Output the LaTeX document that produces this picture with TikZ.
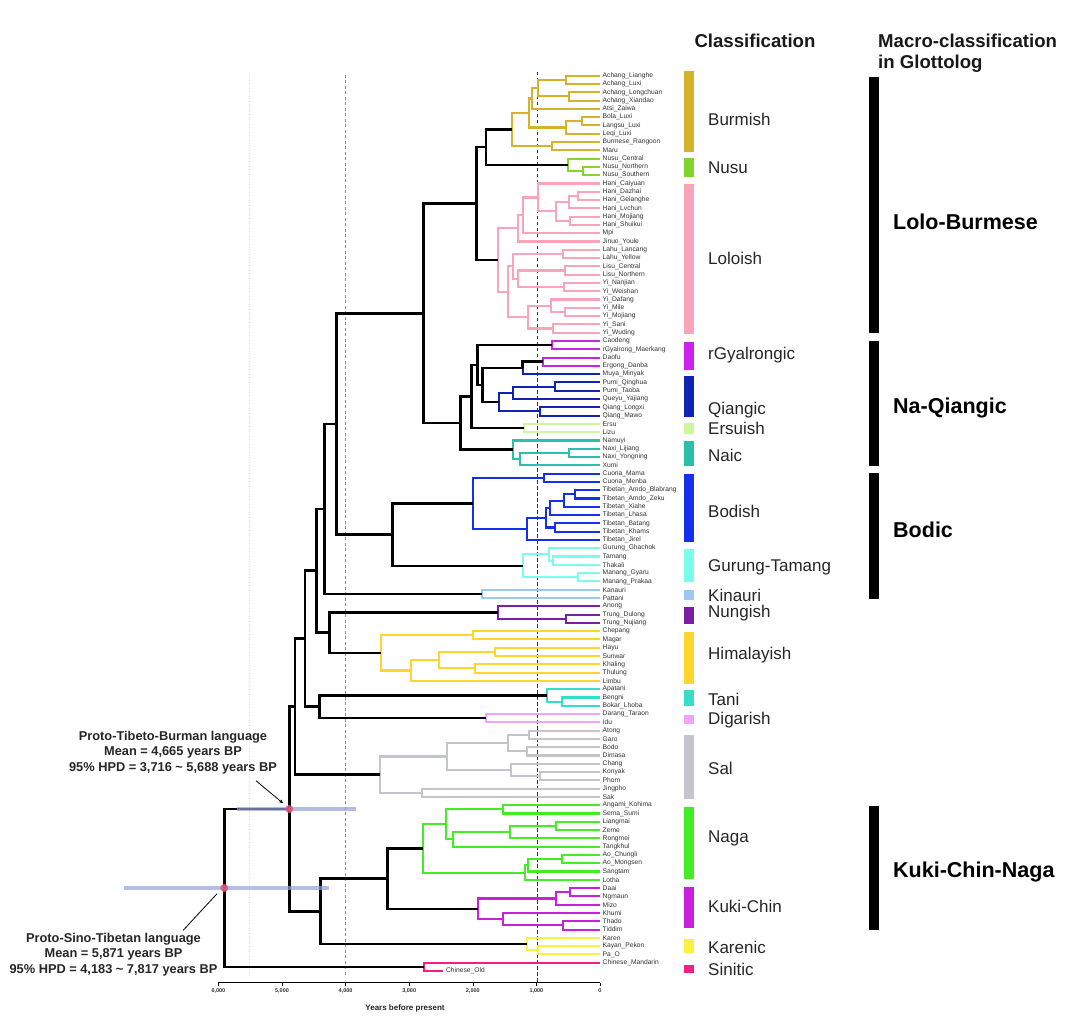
\documentclass[tikz,border=0pt]{standalone}
\usepackage{fontspec}
\setmainfont{Liberation Sans}
\usetikzlibrary{calc,arrows.meta}
\definecolor{cBur}{RGB}{214,178,42}
\definecolor{cNus}{RGB}{128,214,44}
\definecolor{cLol}{RGB}{249,164,184}
\definecolor{cGya}{RGB}{204,34,238}
\definecolor{cQia}{RGB}{16,36,180}
\definecolor{cErs}{RGB}{208,246,156}
\definecolor{cNai}{RGB}{44,192,172}
\definecolor{cBod}{RGB}{20,48,236}
\definecolor{cGur}{RGB}{124,252,234}
\definecolor{cKin}{RGB}{158,200,244}
\definecolor{cNun}{RGB}{124,30,164}
\definecolor{cHim}{RGB}{255,214,44}
\definecolor{cTan}{RGB}{52,222,200}
\definecolor{cDig}{RGB}{240,164,248}
\definecolor{cSal}{RGB}{196,196,204}
\definecolor{cNag}{RGB}{68,236,36}
\definecolor{cKuk}{RGB}{200,32,220}
\definecolor{cKar}{RGB}{255,240,64}
\definecolor{cSin}{RGB}{238,32,136}
\definecolor{hpdc}{RGB}{150,162,222}
\definecolor{dotc}{RGB}{228,80,112}
\newcommand\nd[6]{%
  \path let \p1=($(#3)!0.5!(#4)$) in (#2pt,\y1) coordinate (#1);
  \draw[br,#5] (#1) |- (#3);
  \draw[br,#6] (#1) |- (#4);
}
\newcommand\ndc[5]{\nd{#1}{#2}{#3}{#4}{#5}{#5}}
\begin{document}
\begin{tikzpicture}[x=1pt,y=-1pt,
  br/.style={line width=2.1pt,line join=miter,line cap=butt},
  blk/.style={black,line width=2.6pt},
  leaf/.style={anchor=west,inner sep=0pt,xshift=2.5pt,text=black!80,font=\fontsize{6.7}{7}\selectfont},
  cat/.style={anchor=west,inner sep=0pt,text=black!85,font=\fontsize{17}{19}\selectfont},
  macro/.style={anchor=west,inner sep=0pt,text=black,font=\fontsize{21.5}{24}\selectfont\bfseries},
  head/.style={inner sep=0pt,text=black!90,font=\fontsize{18.6}{21}\selectfont\bfseries},
  ann/.style={align=center,inner sep=0pt,text=black!85,font=\fontsize{12.8}{15.5}\selectfont\bfseries},
  tick/.style={inner sep=0pt,text=black!80,font=\fontsize{5.5}{6}\selectfont\bfseries},
  hpd/.style={hpdc,line width=4.5pt,opacity=0.7}
]
\useasboundingbox (0,0) rectangle (1080,1019);
\fill[white] (0,0) rectangle (1080,1019);

% reference lines
\draw[black!12,dotted,line width=0.6pt] (249,75) -- (249,975);
\draw[black!45,dash pattern=on 3pt off 2.5pt,line width=0.6pt] (345,75) -- (345,976);
\draw[black!80,dash pattern=on 3.5pt off 2.5pt,line width=0.7pt] (537,72) -- (537,982);

% leaves
\foreach \i/\n in {1/Achang\_Lianghe,2/Achang\_Luxi,3/Achang\_Longchuan,4/Achang\_Xiandao,5/Atsi\_Zaiwa,
6/Bola\_Luxi,7/Langsu\_Luxi,8/Leqi\_Luxi,9/Burmese\_Rangoon,10/Maru,
11/Nusu\_Central,12/Nusu\_Northern,13/Nusu\_Southern,
14/Hani\_Caiyuan,15/Hani\_Dazhai,16/Hani\_Gelanghe,17/Hani\_Lvchun,18/Hani\_Mojiang,19/Hani\_Shuikui,
20/Mpi,21/Jinuo\_Youle,22/Lahu\_Lancang,23/Lahu\_Yellow,24/Lisu\_Central,25/Lisu\_Northern,
26/Yi\_Nanjian,27/Yi\_Weishan,28/Yi\_Dafang,29/Yi\_Mile,30/Yi\_Mojiang,31/Yi\_Sani,32/Yi\_Wuding,
33/Caodeng,34/rGyalrong\_Maerkang,35/Daofu,36/Ergong\_Danba,37/Muya\_Minyak,38/Pumi\_Qinghua,
39/Pumi\_Taoba,40/Queyu\_Yajiang,41/Qiang\_Longxi,42/Qiang\_Mawo,43/Ersu,44/Lizu,45/Namuyi,
46/Naxi\_Lijiang,47/Naxi\_Yongning,48/Xumi,49/Cuona\_Mama,50/Cuona\_Menba,
51/Tibetan\_Amdo\_Blabrang,52/Tibetan\_Amdo\_Zeku,53/Tibetan\_Xiahe,54/Tibetan\_Lhasa,
55/Tibetan\_Batang,56/Tibetan\_Khams,57/Tibetan\_Jirel,58/Gurung\_Ghachok,59/Tamang,60/Thakali,
61/Manang\_Gyaru,62/Manang\_Prakaa,63/Kanauri,64/Pattani,65/Anong,66/Trung\_Dulong,67/Trung\_Nujiang,
68/Chepang,69/Magar,70/Hayu,71/Sunwar,72/Khaling,73/Thulung,74/Limbu,75/Apatani,76/Bengni,
77/Bokar\_Lhoba,78/Darang\_Taraon,79/Idu,80/Atong,81/Garo,82/Bodo,83/Dimasa,84/Chang,85/Konyak,
86/Phom,87/Jingpho,88/Sak,89/Angami\_Kohima,90/Sema\_Sumi,91/Liangmai,92/Zeme,93/Rongmei,
94/Tangkhul,95/Ao\_Chungli,96/Ao\_Mongsen,97/Sangtam,98/Lotha,99/Daai,100/Ngmaun,101/Mizo,
102/Khumi,103/Thado,104/Tiddim,105/Karen,106/Kayan\_Pekon,107/Pa\_O,108/Chinese\_Mandarin}{
  \coordinate (t\i) at (600,{75.7+(\i-1)*8.29});
  \node[leaf] (L\i) at (t\i) {\n};
}
\coordinate (t109) at (443.3,971);
\node[leaf] (L109) at (t109) {Chinese\_Old};

% Burmish
\ndc{b1}{565.7}{t1}{t2}{cBur}
\ndc{b2}{569}{t3}{t4}{cBur}
\ndc{b3}{538}{b1}{b2}{cBur}
\ndc{b4}{532}{b3}{t5}{cBur}
\ndc{b5}{581.7}{t6}{t7}{cBur}
\ndc{b6}{565.7}{b5}{t8}{cBur}
\ndc{b7}{529}{b4}{b6}{cBur}
\ndc{b8}{551.7}{t9}{t10}{cBur}
\ndc{b9}{512}{b7}{b8}{cBur}
% Nusu
\ndc{n1}{583}{t12}{t13}{cNus}
\ndc{n2}{567.7}{t11}{n1}{cNus}
\ndc{bn}{486}{b9}{n2}{blk}
% Loloish
\ndc{h1}{578}{t15}{t16}{cLol}
\ndc{h2}{569}{h1}{t17}{cLol}
\ndc{h3}{570}{t18}{t19}{cLol}
\ndc{h4}{555.7}{h2}{h3}{cLol}
\ndc{h5}{538.3}{t14}{h4}{cLol}
\ndc{h6}{523.3}{h5}{t20}{cLol}
\ndc{h7}{517.7}{h6}{t21}{cLol}
\ndc{l1}{563.3}{t22}{t23}{cLol}
\ndc{l2}{565}{t24}{t25}{cLol}
\ndc{l3}{564.3}{t26}{t27}{cLol}
\ndc{l4}{518.3}{l2}{l3}{cLol}
\ndc{l5}{513.3}{l1}{l4}{cLol}
\ndc{l6}{565}{t29}{t30}{cLol}
\ndc{l7}{550.7}{t28}{l6}{cLol}
\ndc{l8}{553.3}{t31}{t32}{cLol}
\ndc{l9}{528}{l7}{l8}{cLol}
\ndc{l10}{508.3}{l5}{l9}{cLol}
\ndc{lo}{497.7}{h7}{l10}{cLol}
\ndc{lb}{476.7}{bn}{lo}{blk}
% rGyalrongic / Qiangic / Ersuish / Naic
\ndc{r1}{552.3}{t33}{t34}{cGya}
\ndc{r2}{543.3}{t35}{t36}{cGya}
\nd{q1}{522.7}{r2}{t37}{blk}{cQia}
\ndc{q2}{555}{t38}{t39}{cQia}
\ndc{q3}{512.7}{q2}{t40}{cQia}
\ndc{q4}{540}{t41}{t42}{cQia}
\ndc{q5}{499}{q3}{q4}{cQia}
\ndc{q6}{482.7}{q1}{q5}{blk}
\ndc{q7}{477.3}{r1}{q6}{blk}
\ndc{e1}{524}{t43}{t44}{cErs}
\ndc{q8}{471.7}{q7}{e1}{blk}
\ndc{na1}{569.3}{t46}{t47}{cNai}
\ndc{na2}{520}{na1}{t48}{cNai}
\ndc{na3}{513.3}{t45}{na2}{cNai}
\ndc{q9}{460.7}{q8}{na3}{blk}
\ndc{a1}{423.3}{lb}{q9}{blk}
% Bodish
\ndc{c1}{544.3}{t49}{t50}{cBod}
\ndc{d1}{575}{t51}{t52}{cBod}
\ndc{d2}{564.3}{d1}{t53}{cBod}
\ndc{d3}{550}{d2}{t54}{cBod}
\ndc{d4}{555}{t55}{t56}{cBod}
\ndc{d5}{545.7}{d3}{d4}{cBod}
\ndc{d6}{526.7}{d5}{t57}{cBod}
\ndc{bo}{473.3}{c1}{d6}{cBod}
% Gurung-Tamang
\ndc{g1}{553.3}{t59}{t60}{cGur}
\ndc{g2}{549.3}{t58}{g1}{cGur}
\ndc{g3}{578.3}{t61}{t62}{cGur}
\ndc{gt}{523.3}{g2}{g3}{cGur}
\ndc{a2}{392.3}{bo}{gt}{blk}
\ndc{a3}{336.7}{a1}{a2}{blk}
\ndc{k1}{481.7}{t63}{t64}{cKin}
\ndc{a4}{324.3}{a3}{k1}{blk}
% Nungish, Himalayish
\ndc{nu1}{566}{t66}{t67}{cNun}
\ndc{nu}{498.3}{t65}{nu1}{cNun}
\ndc{hm1}{472.7}{t68}{t69}{cHim}
\ndc{hm2}{495}{t70}{t71}{cHim}
\ndc{hm3}{475}{t72}{t73}{cHim}
\ndc{hm4}{439.3}{hm2}{hm3}{cHim}
\ndc{hm5}{410.7}{hm4}{t74}{cHim}
\ndc{hm}{380.7}{hm1}{hm5}{cHim}
\ndc{a5}{329.3}{nu}{hm}{blk}
\ndc{a6}{316.7}{a4}{a5}{blk}
% Tani, Digarish
\ndc{ta1}{561.7}{t76}{t77}{cTan}
\ndc{ta}{546.7}{t75}{ta1}{cTan}
\ndc{dg}{485.7}{t78}{t79}{cDig}
\ndc{a7}{319.3}{ta}{dg}{blk}
\ndc{a8}{305}{a6}{a7}{blk}
% Sal
\ndc{s1}{529.3}{t80}{t81}{cSal}
\ndc{s2}{526.7}{t82}{t83}{cSal}
\ndc{s3}{508.3}{s1}{s2}{cSal}
\ndc{s4}{540}{t85}{t86}{cSal}
\ndc{s5}{510.7}{t84}{s4}{cSal}
\ndc{s6}{446.7}{s3}{s5}{cSal}
\ndc{s7}{421.7}{t87}{t88}{cSal}
\ndc{sal}{380}{s6}{s7}{cSal}
\ndc{a9}{295}{a8}{sal}{blk}
% Naga
\ndc{ng1}{502.7}{t89}{t90}{cNag}
\ndc{ng2}{556}{t91}{t92}{cNag}
\ndc{ng3}{510}{ng2}{t93}{cNag}
\ndc{ng4}{453.3}{ng3}{t94}{cNag}
\ndc{ng5}{446}{ng1}{ng4}{cNag}
\ndc{ng6}{561.7}{t95}{t96}{cNag}
\ndc{ng7}{528.3}{ng6}{t97}{cNag}
\ndc{ng8}{525}{ng7}{t98}{cNag}
\ndc{naga}{423.3}{ng5}{ng8}{cNag}
% Kuki-Chin
\ndc{kc1}{570}{t99}{t100}{cKuk}
\ndc{kc2}{556}{kc1}{t101}{cKuk}
\ndc{kc3}{562.7}{t103}{t104}{cKuk}
\ndc{kc4}{502.7}{t102}{kc3}{cKuk}
\ndc{kc}{477.7}{kc2}{kc4}{cKuk}
\ndc{a10}{387.7}{naga}{kc}{blk}
% Karenic
\ndc{kr1}{538.3}{t106}{t107}{cKar}
\ndc{kr}{527.3}{t105}{kr1}{cKar}
\ndc{a11}{320.7}{a10}{kr}{blk}
\ndc{ptb}{289.3}{a9}{a11}{blk}
% Sinitic and root
\ndc{sn}{424}{t108}{t109}{cSin}
\ndc{root}{224.3}{ptb}{sn}{blk}

% HPD bars and node dots
\draw[hpd] ($(ptb)+(-52.3,0)$) -- ($(ptb)+(66.7,0)$);
\draw[hpd] ($(root)+(-100.3,0)$) -- ($(root)+(104.7,0)$);
\node[circle,fill=dotc,fill opacity=0.85,minimum size=8pt,inner sep=0pt] (ptbdot) at (ptb) {};
\node[circle,fill=dotc,fill opacity=0.85,minimum size=8pt,inner sep=0pt] (rootdot) at (root) {};

% annotations
\node[ann] (ptbtxt) at (173,752.5) {Proto-Tibeto-Burman language\\Mean = 4,665 years BP\\95\% HPD = 3,716 \textasciitilde{} 5,688 years BP};
\node[ann] (psttxt) at (113.5,954.3) {Proto-Sino-Tibetan language\\Mean = 5,871 years BP\\95\% HPD = 4,183 \textasciitilde{} 7,817 years BP};
\draw[black,line width=0.8pt,-{Stealth[length=4pt,width=3.5pt]}] ($(ptb)+(-33.3,-28.3)$) -- ($(ptb)+(-6.3,-5.8)$);
\draw[black,line width=0.8pt] ($(root)+(-41.3,42.5)$) -- ($(root)+(-7.3,5.8)$);

% axis
\draw[black,line width=0.7pt] (218.4,982.7) -- (600,982.7);
\foreach \k/\lab in {0/0,1/{1,000},2/{2,000},3/{3,000},4/{4,000},5/{5,000},6/{6,000}}{
  \draw[black,line width=0.6pt] ({600-63.6*\k},982.7) -- ({600-63.6*\k},985.5);
  \node[tick] (tk\k) at ({600-63.6*\k},991) {\lab};
}
\node[inner sep=0pt,font=\fontsize{8}{9}\selectfont\bfseries,text=black!85] (xlab) at (405,1008) {Years before present};

% classification bars
\fill[cBur] (684,71) rectangle (694,152);
\fill[cNus] (684,158) rectangle (694,177);
\fill[cLol] (684,184) rectangle (694,334);
\fill[cGya] (684,342) rectangle (694,370);
\fill[cQia] (684,376) rectangle (694,417);
\fill[cErs] (684,423) rectangle (694,434);
\fill[cNai] (684,441) rectangle (694,466);
\fill[cBod] (684,474) rectangle (694,542);
\fill[cGur] (684,549) rectangle (694,582);
\fill[cKin] (684,590) rectangle (694,600);
\fill[cNun] (684,607) rectangle (694,624);
\fill[cHim] (684,632) rectangle (694,684);
\fill[cTan] (684,690) rectangle (694,706);
\fill[cDig] (684,715) rectangle (694,724);
\fill[cSal] (684,735) rectangle (694,799);
\fill[cNag] (684,807) rectangle (694,879);
\fill[cKuk] (684,887) rectangle (694,928);
\fill[cKar] (684,939) rectangle (694,953);
\fill[cSin] (684,965) rectangle (694,973);

\node[cat] (cBurL) at (708,119) {Burmish};
\node[cat] (cNusL) at (708,168) {Nusu};
\node[cat] (cLolL) at (708,258) {Loloish};
\node[cat] (cGyaL) at (708,355) {rGyalrongic};
\node[cat] (cQiaL) at (708,410) {Qiangic};
\node[cat] (cErsL) at (708,428) {Ersuish};
\node[cat] (cNaiL) at (708,455) {Naic};
\node[cat] (cBodL) at (708,511) {Bodish};
\node[cat] (cGurL) at (708,567) {Gurung-Tamang};
\node[cat] (cKinL) at (708,595) {Kinauri};
\node[cat] (cNunL) at (708,613) {Nungish};
\node[cat] (cHimL) at (708,655) {Himalayish};
\node[cat] (cTanL) at (708,699) {Tani};
\node[cat] (cDigL) at (708,720) {Digarish};
\node[cat] (cSalL) at (708,768) {Sal};
\node[cat] (cNagL) at (708,838) {Naga};
\node[cat] (cKukL) at (708,906) {Kuki-Chin};
\node[cat] (cKarL) at (708,947) {Karenic};
\node[cat] (cSinL) at (708,969) {Sinitic};

% macro-classification
\fill[black] (869,77) rectangle (879,333);
\fill[black] (869,341) rectangle (879,466);
\fill[black] (869,473) rectangle (879,599);
\fill[black] (869,806) rectangle (879,930);
\node[macro] (mLB) at (893,222) {Lolo-Burmese};
\node[macro] (mNQ) at (893,408) {Na-Qiangic};
\node[macro] (mBo) at (893,530) {Bodic};
\node[macro] (mKCN) at (893,872) {Kuki-Chin-Naga};

% headers
\node[head] (h1) at (755,41) {Classification};
\node[head,anchor=west] (h2) at (878,41) {Macro-classification};
\node[head,anchor=west] (h3) at (878,64) {in Glottolog};
\end{tikzpicture}
\end{document}
